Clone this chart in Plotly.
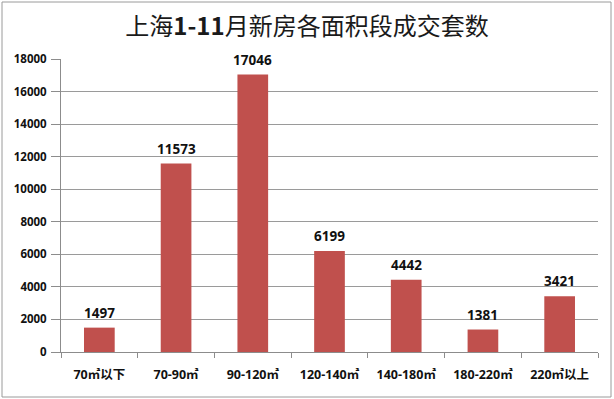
import plotly.graph_objects as go

categories = ["70㎡以下", "70-90㎡", "90-120㎡", "120-140㎡", "140-180㎡", "180-220㎡", "220㎡以上"]
values = [1497, 11573, 17046, 6199, 4442, 1381, 3421]
y_ticks = [0, 2000, 4000, 6000, 8000, 10000, 12000, 14000, 16000, 18000]
title = "上海<b>1-11</b>月新房各面积段成交套数"

W, H = 614, 399
L, R, T, B = 61, 16, 59, 47

fig = go.Figure(go.Bar(
    x=categories, y=values,
    marker=dict(color="#C0504D", line=dict(width=0)),
    width=0.4,
    cliponaxis=False,
))

for c, v in zip(categories, values):
    fig.add_annotation(x=c, y=v, text=str(v), showarrow=False, yanchor="middle", yshift=15,
                       font=dict(family="Open Sans, Liberation Sans, sans-serif", size=13.5,
                                 color="#111111", weight="bold"))

pw, ph = W - L - R, H - T - B
fig.add_shape(type="rect", xref="paper", yref="paper",
              x0=(2 - L) / pw, x1=(611 - L) / pw,
              y0=(H - B - 397) / ph, y1=(H - B - 2) / ph,
              line=dict(color="#9a9a9a", width=1), fillcolor="rgba(0,0,0,0)", layer="below")

fig.update_layout(
    width=W, height=H,
    margin=dict(l=L, r=R, t=T, b=B),
    paper_bgcolor="white", plot_bgcolor="white",
    showlegend=False,
    title=dict(text=title, x=0.5, xref="container", xanchor="center", y=1 - 27 / H, yanchor="middle",
               font=dict(family="Noto Sans CJK SC, sans-serif", size=24, color="#1a1a1a")),
    bargap=0.6,
)
fig.update_xaxes(
    showline=True, linecolor="#8c8c8c", linewidth=1,
    ticks="outside", tickson="boundaries", ticklen=5, tickcolor="#8c8c8c",
    tickfont=dict(family="Open Sans, Noto Sans CJK SC, sans-serif", size=12.5, color="#111111", weight="bold"),
    ticklabelstandoff=11,
    showgrid=False,
)
fig.update_yaxes(
    range=[0, 18000], tickvals=y_ticks, ticktext=[str(v) for v in y_ticks],
    showline=True, linecolor="#8c8c8c", linewidth=1,
    ticks="outside", ticklen=9, tickcolor="#8c8c8c",
    showgrid=True, gridcolor="#9a9a9a", gridwidth=1,
    tickfont=dict(family="Open Sans, sans-serif", size=11.5, color="#111111", weight="bold"),
    ticklabelstandoff=2,
    zeroline=False,
)

fig.write_html("out.html")
